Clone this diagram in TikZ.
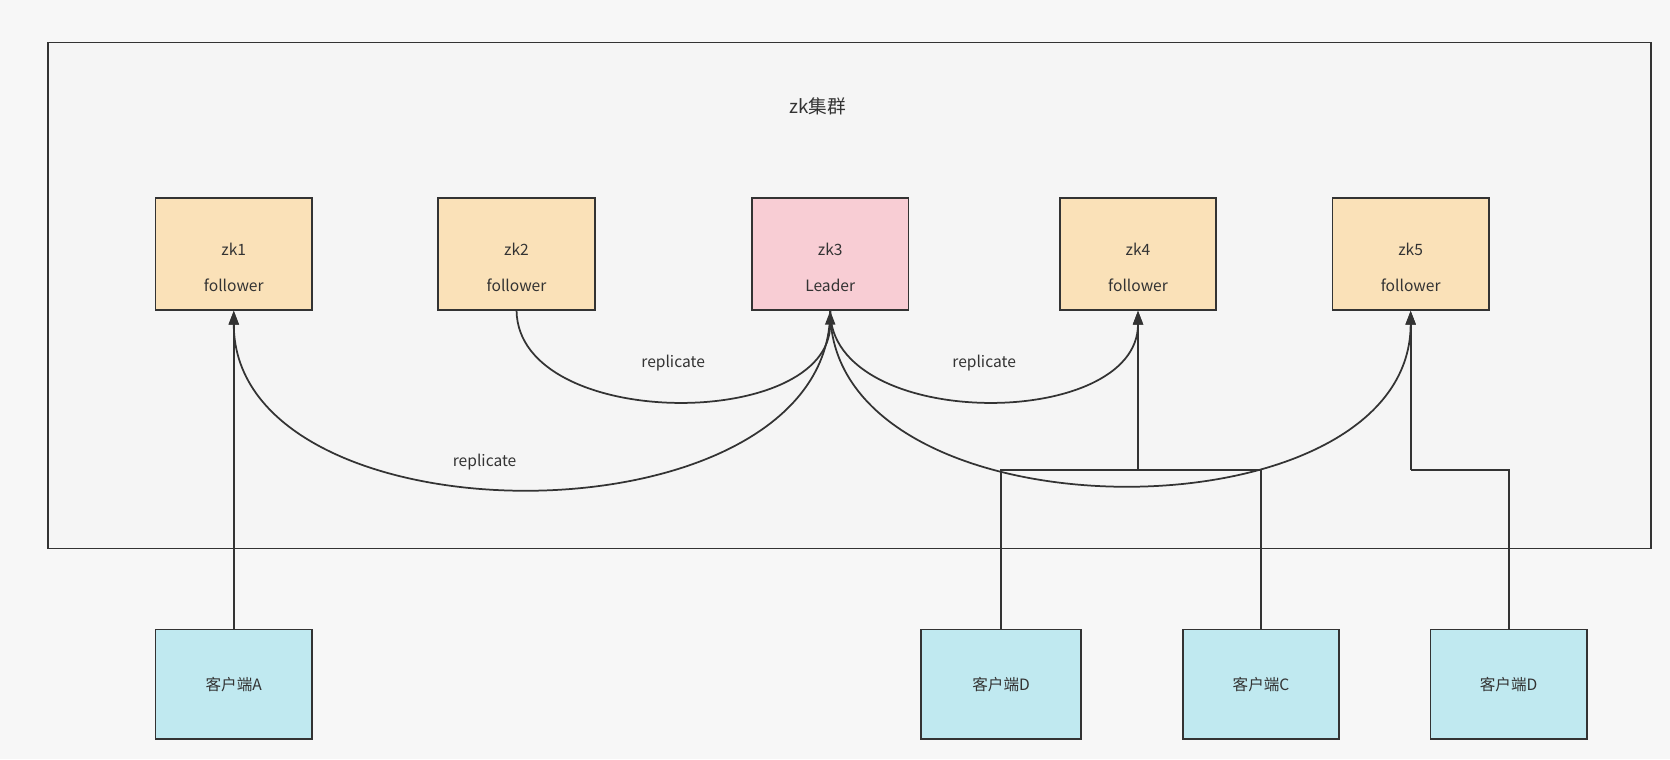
\documentclass[tikz,border=0pt]{standalone}
\usepackage{fontspec}
\setmainfont{Noto Sans CJK SC}
\usetikzlibrary{arrows.meta}
\definecolor{zkf}{HTML}{FAE1B8}
\definecolor{zkl}{HTML}{F8CDD4}
\definecolor{cli}{HTML}{C0E9F0}
\definecolor{ln}{HTML}{333333}
\newcommand{\dn}{\rule{0pt}{1.1cm}}
\begin{document}
\begin{tikzpicture}[x=0.03cm,y=-0.03cm,
  box/.style={draw=ln,line width=1.4pt,minimum width=4.41cm,minimum height=3.15cm,align=center,font=\fontsize{12.5}{29}\selectfont,text=ln},
  fol/.style={box,fill=zkf},
  cl/.style={box,fill=cli,minimum width=4.41cm,minimum height=3.09cm},
  con/.style={draw=ln,line width=1.4pt},
  arr/.style={con,-{Triangle[length=11pt,width=8pt]}},
  lab/.style={font=\fontsize{12.5}{14}\selectfont,text=ln}]
\fill[white!97!black] (0,0) rectangle (1568,713);
\useasboundingbox (0,0) rectangle (1568,713);
\node[draw=ln,line width=1.4pt,fill=black!4,minimum width=45.15cm,minimum height=14.25cm] (cluster) at (797.5,277.5) {};
\node[font=\fontsize{15}{17}\selectfont,text=ln] (title) at (768,100) {zk集群};
\node[fol] (zk1) at (219.5,238.5) {\dn zk1\\follower};
\node[fol] (zk2) at (485,238.5) {\dn zk2\\follower};
\node[box,fill=zkl] (zk3) at (779.5,238.5) {\dn zk3\\Leader};
\node[fol] (zk4) at (1068.5,238.5) {\dn zk4\\follower};
\node[fol] (zk5) at (1324.5,238.5) {\dn zk5\\follower};
\node[cl] (ca) at (219.5,642.5) {客户端A};
\node[cl,minimum width=4.5cm] (cd1) at (940,642.5) {客户端D};
\node[cl] (cc) at (1184,642.5) {客户端C};
\node[cl] (cd2) at (1416.5,642.5) {客户端D};
\coordinate (j4) at (1068.5,441);
\coordinate (j5) at (1324.5,441);
\draw[arr] (ca.north) -- (zk1.south);
\draw[arr] (zk2.south) .. controls (487,405) and (779.5,405) .. (zk3.south);
\draw[arr] (zk3.south) .. controls (779.5,515) and (219.5,515) .. (zk1.south);
\draw[arr] (zk3.south) .. controls (779.5,405) and (1068.5,405) .. (zk4.south);
\draw[arr] (zk3.south) .. controls (779.5,510) and (1324.5,510) .. (zk5.south);
\draw[con] (cd1.north) |- (j4);
\draw[con] (cc.north) |- (j4);
\draw[arr] (j4) -- (zk4.south);
\draw[con] (cd2.north) |- (j5);
\draw[arr] (j5) -- (zk5.south);
\node[lab] (r1) at (632,341) {replicate};
\node[lab] (r2) at (924,341) {replicate};
\node[lab] (r3) at (455,434) {replicate};
\end{tikzpicture}
\end{document}
